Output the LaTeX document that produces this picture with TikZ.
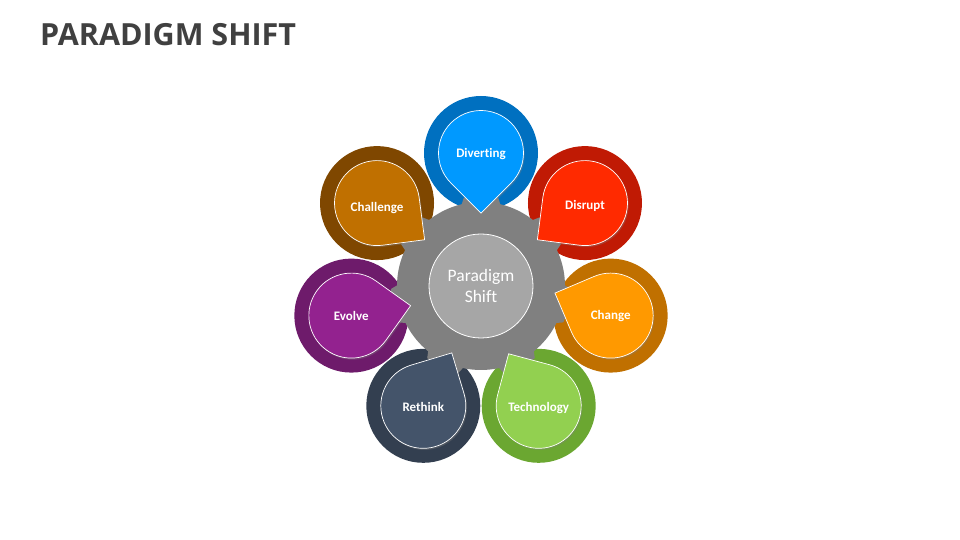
\documentclass[tikz,border=0pt]{standalone}
\usepackage{fontspec}
\setmainfont{Carlito}[Ligatures=NoCommon]
\newfontfamily\headfont{Open Sans}
\usepackage{tikz}
\usetikzlibrary{calc,shadows}
\definecolor{headgray}{RGB}{64,64,64}
\definecolor{geargray}{RGB}{128,128,128}
\definecolor{coregray}{RGB}{166,166,166}
\definecolor{divdark}{RGB}{0,112,192}
\definecolor{divlight}{RGB}{0,153,255}
\definecolor{disdark}{RGB}{192,26,4}
\definecolor{dislight}{RGB}{255,42,0}
\definecolor{chgdark}{RGB}{192,112,0}
\definecolor{chglight}{RGB}{255,153,0}
\definecolor{tecdark}{RGB}{107,167,49}
\definecolor{teclight}{RGB}{146,208,80}
\definecolor{retdark}{RGB}{51,63,80}
\definecolor{retlight}{RGB}{68,84,106}
\definecolor{evodark}{RGB}{110,27,107}
\definecolor{evolight}{RGB}{147,34,143}
\definecolor{chldark}{RGB}{127,71,0}
\definecolor{chllight}{RGB}{192,112,0}

% teardrop: centre, tip angle, fill colour
\newcommand{\teardrop}[3]{%
  \path[petal, fill=#3] ($(#1)+(#2:60.1)$) -- ($(#1)+(#2+45:42.5)$)
    arc[start angle=#2+45, end angle=#2+315, radius=42.5] -- cycle;}

\begin{document}
\begin{tikzpicture}[x=1pt, y=1pt,
        ring/.style={circle, minimum size=114, inner sep=0},
        gear/.style={fill=geargray},
        core/.style={circle, fill=coregray, draw=white, line width=0.8pt, minimum size=104, inner sep=0, text=white, align=center, font=\fontsize{17.5}{21}\selectfont},
        petal/.style={draw=white, line width=0.7pt, drop shadow={shadow xshift=1.2pt, shadow yshift=-1.6pt, opacity=0.35}},
        label/.style={text=white, font=\bfseries\fontsize{13}{15}\selectfont, inner sep=1pt}]

        \useasboundingbox (-481,-254) rectangle (479,286);

        % Title
        \node[anchor=base west, inner sep=0, text=headgray, font=\headfont\bfseries\fontsize{30.5}{36}\selectfont] (title) at (-441,240) {PARADIGM SHIFT};

        % Outer rings
        \node[ring, fill=divdark] (divring) at (90:133) {};
        \node[ring, fill=disdark] (disring) at (38.57:133) {};
        \node[ring, fill=chgdark] (chgring) at (-12.86:133) {};
        \node[ring, fill=tecdark] (tecring) at (-64.29:133) {};
        \node[ring, fill=retdark] (retring) at (-115.71:133) {};
        \node[ring, fill=evodark] (evoring) at (-167.14:133) {};
        \node[ring, fill=chldark] (chlring) at (141.43:133) {};

        % Gear
        \fill[gear] (0,0) circle (84);
        \foreach \a in {90,38.57,-12.86,-64.29,-115.71,-167.14,141.43}
            \fill[gear] (\a-15:80) -- (\a-11:90) arc[start angle=\a-11, end angle=\a+11, radius=90] -- (\a+15:80) -- cycle;

        % Centre
        \node[core] (core) at (0,0) {Paradigm\\Shift};

        % Teardrops
        \teardrop{divring}{270}{divlight}
        \teardrop{disring}{217.6}{dislight}
        \teardrop{chgring}{158}{chglight}
        \teardrop{tecring}{120}{teclight}
        \teardrop{retring}{61.7}{retlight}
        \teardrop{evoring}{9.5}{evolight}
        \teardrop{chlring}{322.4}{chllight}

        % Labels
        \node[label, yshift=-1] (divlbl) at (divring) {Diverting};
        \node[label, yshift=-3] (dislbl) at (disring) {Disrupt};
        \node[label] (chglbl) at (chgring) {Change};
        \node[label, yshift=-2] (teclbl) at (tecring) {Technology};
        \node[label, yshift=-1] (retlbl) at (retring) {Rethink};
        \node[label] (evolbl) at (evoring) {Evolve};
        \node[label, yshift=-5] (chllbl) at (chlring) {Challenge};

    \end{tikzpicture}
\end{document}
